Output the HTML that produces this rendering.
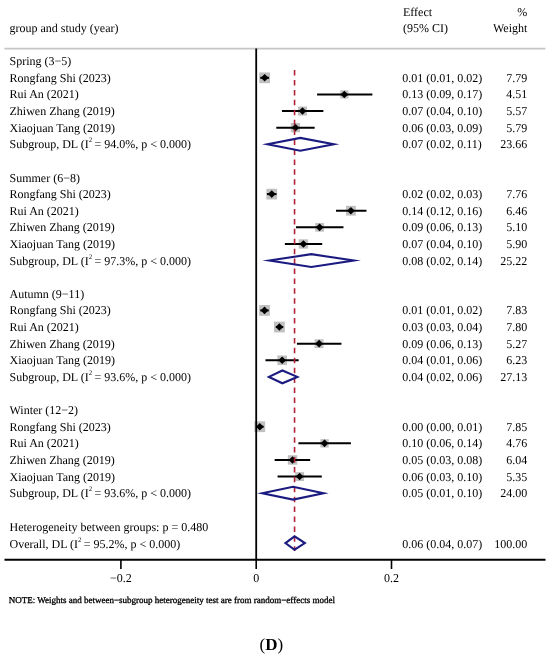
<!DOCTYPE html>
<html><head><meta charset="utf-8"><style>
html,body{margin:0;padding:0;background:#fff;}
svg{display:block;}
text{text-rendering:geometricPrecision;font-family:"Liberation Serif","Times New Roman",serif;fill:#000;}
</style></head><body>
<svg width="550" height="657" viewBox="0 0 550 657">
<rect width="550" height="657" fill="#fff"/>
<line x1="4.4" y1="48.6" x2="545.4" y2="48.6" stroke="#c6c6c6" stroke-width="1.8"/>
<line x1="4.5" y1="559.7" x2="545.5" y2="559.7" stroke="#000" stroke-width="1.9"/>
<line x1="120.90" y1="559.7" x2="120.90" y2="569" stroke="#000" stroke-width="1.6"/>
<line x1="256.20" y1="559.7" x2="256.20" y2="569" stroke="#000" stroke-width="1.6"/>
<line x1="391.50" y1="559.7" x2="391.50" y2="569" stroke="#000" stroke-width="1.6"/>
<rect x="259.28" y="72.44" width="10.75" height="10.75" fill="#c0c0c0"/>
<rect x="340.26" y="90.34" width="8.18" height="8.18" fill="#c0c0c0"/>
<rect x="297.93" y="106.50" width="9.09" height="9.09" fill="#c0c0c0"/>
<rect x="290.80" y="123.03" width="9.26" height="9.26" fill="#c0c0c0"/>
<rect x="266.40" y="188.76" width="10.72" height="10.72" fill="#c0c0c0"/>
<rect x="346.02" y="205.84" width="9.79" height="9.79" fill="#c0c0c0"/>
<rect x="315.24" y="223.00" width="8.69" height="8.69" fill="#c0c0c0"/>
<rect x="298.74" y="239.29" width="9.35" height="9.35" fill="#c0c0c0"/>
<rect x="259.13" y="305.04" width="10.77" height="10.77" fill="#c0c0c0"/>
<rect x="274.03" y="321.66" width="10.75" height="10.75" fill="#c0c0c0"/>
<rect x="314.70" y="339.24" width="8.84" height="8.84" fill="#c0c0c0"/>
<rect x="277.37" y="355.47" width="9.61" height="9.61" fill="#c0c0c0"/>
<rect x="254.39" y="421.34" width="10.79" height="10.79" fill="#c0c0c0"/>
<rect x="320.33" y="439.15" width="8.40" height="8.40" fill="#c0c0c0"/>
<rect x="287.80" y="455.23" width="9.46" height="9.46" fill="#c0c0c0"/>
<rect x="295.18" y="472.12" width="8.91" height="8.91" fill="#c0c0c0"/>
<line x1="256.20" y1="48.6" x2="256.20" y2="559.7" stroke="#000" stroke-width="1.8"/>
<line x1="260.26" y1="77.81" x2="269.05" y2="77.81" stroke="#000" stroke-width="2"/>
<path d="M260.86 77.81 L264.66 74.02 L268.46 77.81 L264.66 81.61 Z" fill="#000"/>
<line x1="317.08" y1="94.43" x2="372.36" y2="94.43" stroke="#000" stroke-width="2"/>
<path d="M340.55 94.43 L344.35 90.63 L348.15 94.43 L344.35 98.23 Z" fill="#000"/>
<line x1="281.97" y1="111.05" x2="323.38" y2="111.05" stroke="#000" stroke-width="2"/>
<path d="M298.67 111.05 L302.47 107.25 L306.27 111.05 L302.47 114.84 Z" fill="#000"/>
<line x1="276.29" y1="127.66" x2="314.65" y2="127.66" stroke="#000" stroke-width="2"/>
<path d="M291.64 127.66 L295.44 123.86 L299.24 127.66 L295.44 131.46 Z" fill="#000"/>
<line x1="266.89" y1="194.12" x2="276.50" y2="194.12" stroke="#000" stroke-width="2"/>
<path d="M267.96 194.12 L271.76 190.32 L275.56 194.12 L271.76 197.92 Z" fill="#000"/>
<line x1="336.03" y1="210.74" x2="366.47" y2="210.74" stroke="#000" stroke-width="2"/>
<path d="M347.11 210.74 L350.91 206.94 L354.71 210.74 L350.91 214.54 Z" fill="#000"/>
<line x1="295.98" y1="227.35" x2="343.47" y2="227.35" stroke="#000" stroke-width="2"/>
<path d="M315.79 227.35 L319.59 223.55 L323.39 227.35 L319.59 231.15 Z" fill="#000"/>
<line x1="284.88" y1="243.96" x2="322.23" y2="243.96" stroke="#000" stroke-width="2"/>
<path d="M299.62 243.96 L303.42 240.16 L307.22 243.96 L303.42 247.76 Z" fill="#000"/>
<line x1="260.26" y1="310.42" x2="268.72" y2="310.42" stroke="#000" stroke-width="2"/>
<path d="M260.72 310.42 L264.52 306.62 L268.32 310.42 L264.52 314.22 Z" fill="#000"/>
<line x1="275.82" y1="327.04" x2="283.26" y2="327.04" stroke="#000" stroke-width="2"/>
<path d="M275.60 327.04 L279.40 323.24 L283.20 327.04 L279.40 330.84 Z" fill="#000"/>
<line x1="296.93" y1="343.65" x2="341.44" y2="343.65" stroke="#000" stroke-width="2"/>
<path d="M315.31 343.65 L319.11 339.85 L322.91 343.65 L319.11 347.45 Z" fill="#000"/>
<line x1="265.47" y1="360.27" x2="298.68" y2="360.27" stroke="#000" stroke-width="2"/>
<path d="M278.38 360.27 L282.18 356.47 L285.98 360.27 L282.18 364.07 Z" fill="#000"/>
<line x1="256.20" y1="426.73" x2="263.64" y2="426.73" stroke="#000" stroke-width="2"/>
<path d="M255.99 426.73 L259.79 422.93 L263.59 426.73 L259.79 430.53 Z" fill="#000"/>
<line x1="298.41" y1="443.34" x2="350.91" y2="443.34" stroke="#000" stroke-width="2"/>
<path d="M320.73 443.34 L324.53 439.54 L328.33 443.34 L324.53 447.14 Z" fill="#000"/>
<line x1="274.67" y1="459.96" x2="310.18" y2="459.96" stroke="#000" stroke-width="2"/>
<path d="M288.73 459.96 L292.53 456.16 L296.33 459.96 L292.53 463.76 Z" fill="#000"/>
<line x1="277.58" y1="476.57" x2="321.82" y2="476.57" stroke="#000" stroke-width="2"/>
<path d="M295.83 476.57 L299.63 472.77 L303.43 476.57 L299.63 480.37 Z" fill="#000"/>
<line x1="294.56" y1="70.1" x2="294.56" y2="551" stroke="#ae2437" stroke-width="1.6" stroke-dasharray="5.5 4.42"/>
<path d="M267.50 144.27 L300.31 137.87 L333.79 144.27 L300.31 150.67 Z" fill="none" stroke="#1a1a80" stroke-width="2.1" stroke-miterlimit="20"/>
<path d="M269.32 260.58 L311.33 254.18 L353.89 260.58 L311.33 266.98 Z" fill="none" stroke="#1a1a80" stroke-width="2.1" stroke-miterlimit="20"/>
<path d="M268.92 376.88 L282.38 370.48 L297.33 376.88 L282.38 383.28 Z" fill="none" stroke="#1a1a80" stroke-width="2.1" stroke-miterlimit="20"/>
<path d="M262.22 493.19 L293.07 486.79 L323.58 493.19 L293.07 499.59 Z" fill="none" stroke="#1a1a80" stroke-width="2.1" stroke-miterlimit="20"/>
<path d="M285.42 543.03 L294.56 536.33 L304.84 543.03 L294.56 549.74 Z" fill="none" stroke="#1a1a80" stroke-width="2.1" stroke-miterlimit="20"/>
<text x="403.00" y="15.50" text-anchor="start" font-size="12">Effect</text>
<text x="527.30" y="15.50" text-anchor="end" font-size="12">%</text>
<text x="9.50" y="32.40" text-anchor="start" font-size="12">group and study (year)</text>
<text x="403.00" y="32.30" text-anchor="start" font-size="12">(95% CI)</text>
<text x="527.30" y="32.20" text-anchor="end" font-size="12">Weight</text>
<text x="9.50" y="65.20" text-anchor="start" font-size="12">Spring (3−5)</text>
<text x="9.50" y="81.81" text-anchor="start" font-size="12">Rongfang Shi (2023)</text>
<text x="402.30" y="81.81" text-anchor="start" font-size="12">0.01 (0.01, 0.02)</text>
<text x="527.30" y="81.81" text-anchor="end" font-size="12">7.79</text>
<text x="9.50" y="98.43" text-anchor="start" font-size="12">Rui An (2021)</text>
<text x="402.30" y="98.43" text-anchor="start" font-size="12">0.13 (0.09, 0.17)</text>
<text x="527.30" y="98.43" text-anchor="end" font-size="12">4.51</text>
<text x="9.50" y="115.05" text-anchor="start" font-size="12">Zhiwen Zhang (2019)</text>
<text x="402.30" y="115.05" text-anchor="start" font-size="12">0.07 (0.04, 0.10)</text>
<text x="527.30" y="115.05" text-anchor="end" font-size="12">5.57</text>
<text x="9.50" y="131.66" text-anchor="start" font-size="12">Xiaojuan Tang (2019)</text>
<text x="402.30" y="131.66" text-anchor="start" font-size="12">0.06 (0.03, 0.09)</text>
<text x="527.30" y="131.66" text-anchor="end" font-size="12">5.79</text>
<text x="9.5" y="148.27" font-size="12">Subgroup, DL (I<tspan dy="-5.9" font-size="6.8">2</tspan><tspan dy="5.9" dx="-0.7"> = 94.0%, p &lt; 0.000)</tspan></text>
<text x="402.30" y="148.27" text-anchor="start" font-size="12">0.07 (0.02, 0.11)</text>
<text x="527.30" y="148.27" text-anchor="end" font-size="12">23.66</text>
<text x="9.50" y="181.50" text-anchor="start" font-size="12">Summer (6−8)</text>
<text x="9.50" y="198.12" text-anchor="start" font-size="12">Rongfang Shi (2023)</text>
<text x="402.30" y="198.12" text-anchor="start" font-size="12">0.02 (0.02, 0.03)</text>
<text x="527.30" y="198.12" text-anchor="end" font-size="12">7.76</text>
<text x="9.50" y="214.74" text-anchor="start" font-size="12">Rui An (2021)</text>
<text x="402.30" y="214.74" text-anchor="start" font-size="12">0.14 (0.12, 0.16)</text>
<text x="527.30" y="214.74" text-anchor="end" font-size="12">6.46</text>
<text x="9.50" y="231.35" text-anchor="start" font-size="12">Zhiwen Zhang (2019)</text>
<text x="402.30" y="231.35" text-anchor="start" font-size="12">0.09 (0.06, 0.13)</text>
<text x="527.30" y="231.35" text-anchor="end" font-size="12">5.10</text>
<text x="9.50" y="247.96" text-anchor="start" font-size="12">Xiaojuan Tang (2019)</text>
<text x="402.30" y="247.96" text-anchor="start" font-size="12">0.07 (0.04, 0.10)</text>
<text x="527.30" y="247.96" text-anchor="end" font-size="12">5.90</text>
<text x="9.5" y="264.58" font-size="12">Subgroup, DL (I<tspan dy="-5.9" font-size="6.8">2</tspan><tspan dy="5.9" dx="-0.7"> = 97.3%, p &lt; 0.000)</tspan></text>
<text x="402.30" y="264.58" text-anchor="start" font-size="12">0.08 (0.02, 0.14)</text>
<text x="527.30" y="264.58" text-anchor="end" font-size="12">25.22</text>
<text x="9.50" y="297.81" text-anchor="start" font-size="12">Autumn (9−11)</text>
<text x="9.50" y="314.42" text-anchor="start" font-size="12">Rongfang Shi (2023)</text>
<text x="402.30" y="314.42" text-anchor="start" font-size="12">0.01 (0.01, 0.02)</text>
<text x="527.30" y="314.42" text-anchor="end" font-size="12">7.83</text>
<text x="9.50" y="331.04" text-anchor="start" font-size="12">Rui An (2021)</text>
<text x="402.30" y="331.04" text-anchor="start" font-size="12">0.03 (0.03, 0.04)</text>
<text x="527.30" y="331.04" text-anchor="end" font-size="12">7.80</text>
<text x="9.50" y="347.65" text-anchor="start" font-size="12">Zhiwen Zhang (2019)</text>
<text x="402.30" y="347.65" text-anchor="start" font-size="12">0.09 (0.06, 0.13)</text>
<text x="527.30" y="347.65" text-anchor="end" font-size="12">5.27</text>
<text x="9.50" y="364.27" text-anchor="start" font-size="12">Xiaojuan Tang (2019)</text>
<text x="402.30" y="364.27" text-anchor="start" font-size="12">0.04 (0.01, 0.06)</text>
<text x="527.30" y="364.27" text-anchor="end" font-size="12">6.23</text>
<text x="9.5" y="380.88" font-size="12">Subgroup, DL (I<tspan dy="-5.9" font-size="6.8">2</tspan><tspan dy="5.9" dx="-0.7"> = 93.6%, p &lt; 0.000)</tspan></text>
<text x="402.30" y="380.88" text-anchor="start" font-size="12">0.04 (0.02, 0.06)</text>
<text x="527.30" y="380.88" text-anchor="end" font-size="12">27.13</text>
<text x="9.50" y="414.11" text-anchor="start" font-size="12">Winter (12−2)</text>
<text x="9.50" y="430.73" text-anchor="start" font-size="12">Rongfang Shi (2023)</text>
<text x="402.30" y="430.73" text-anchor="start" font-size="12">0.00 (0.00, 0.01)</text>
<text x="527.30" y="430.73" text-anchor="end" font-size="12">7.85</text>
<text x="9.50" y="447.34" text-anchor="start" font-size="12">Rui An (2021)</text>
<text x="402.30" y="447.34" text-anchor="start" font-size="12">0.10 (0.06, 0.14)</text>
<text x="527.30" y="447.34" text-anchor="end" font-size="12">4.76</text>
<text x="9.50" y="463.96" text-anchor="start" font-size="12">Zhiwen Zhang (2019)</text>
<text x="402.30" y="463.96" text-anchor="start" font-size="12">0.05 (0.03, 0.08)</text>
<text x="527.30" y="463.96" text-anchor="end" font-size="12">6.04</text>
<text x="9.50" y="480.57" text-anchor="start" font-size="12">Xiaojuan Tang (2019)</text>
<text x="402.30" y="480.57" text-anchor="start" font-size="12">0.06 (0.03, 0.10)</text>
<text x="527.30" y="480.57" text-anchor="end" font-size="12">5.35</text>
<text x="9.5" y="497.19" font-size="12">Subgroup, DL (I<tspan dy="-5.9" font-size="6.8">2</tspan><tspan dy="5.9" dx="-0.7"> = 93.6%, p &lt; 0.000)</tspan></text>
<text x="402.30" y="497.19" text-anchor="start" font-size="12">0.05 (0.01, 0.10)</text>
<text x="527.30" y="497.19" text-anchor="end" font-size="12">24.00</text>
<text x="9.50" y="531.32" text-anchor="start" font-size="12">Heterogeneity between groups: p = 0.480</text>
<text x="9.5" y="547.74" font-size="12">Overall, DL (I<tspan dy="-5.9" font-size="6.8">2</tspan><tspan dy="5.9" dx="-0.7"> = 95.2%, p &lt; 0.000)</tspan></text>
<text x="402.30" y="547.74" text-anchor="start" font-size="12">0.06 (0.04, 0.07)</text>
<text x="527.30" y="547.74" text-anchor="end" font-size="12">100.00</text>
<text x="120.90" y="582.20" text-anchor="middle" font-size="12">−0.2</text>
<text x="256.20" y="582.20" text-anchor="middle" font-size="12">0</text>
<text x="391.50" y="582.20" text-anchor="middle" font-size="12">0.2</text>
<text x="8.70" y="602.50" text-anchor="start" font-size="9" stroke="#000" stroke-width="0.3">NOTE: Weights and between−subgroup heterogeneity test are from random−effects model</text>
<text x="271.4" y="649.9" text-anchor="middle" font-size="17">(<tspan font-weight="bold">D</tspan>)</text>
</svg>
</body></html>
